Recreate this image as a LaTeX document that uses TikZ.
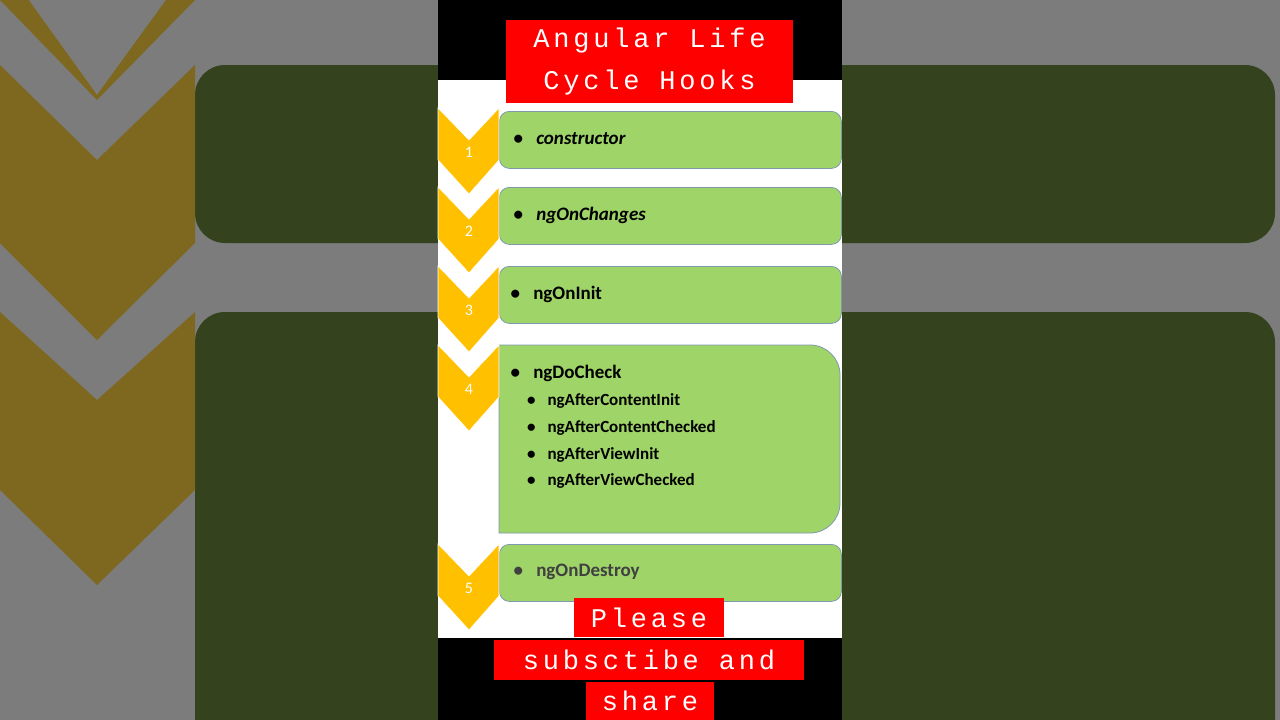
\documentclass[tikz,border=0pt]{standalone}
\usepackage{fontspec}
\setmainfont{Carlito}
\newfontfamily\monof[LetterSpace=14]{Liberation Mono}
\newcommand{\bul}{\textbullet\hspace{0.7em}}
\begin{document}
\begin{tikzpicture}[x=1pt,y=-1pt,
  gbox/.style={fill=hookgreen,draw=boxedge,line width=0.8pt,rounded corners=10pt},
  chev/.style={fill=chevy,draw=white,line width=0.6pt},
  num/.style={text=white,font=\fontsize{16}{18}\selectfont},
  item/.style={anchor=west,font=\fontsize{19}{21}\selectfont\bfseries},
  sub/.style={anchor=west,font=\fontsize{17}{19}\selectfont\bfseries,inner sep=1pt},
  redl/.style={fill=red,text=white,font=\monof\fontsize{27}{42}\selectfont,inner sep=3pt}]
\definecolor{hookgreen}{HTML}{9FD468}
\definecolor{boxedge}{HTML}{7E98B0}
\definecolor{chevy}{HTML}{FFC000}
\definecolor{bggray}{HTML}{7C7C7C}
\definecolor{dimgreen}{HTML}{34421E}
\definecolor{dimyellow}{HTML}{7E6820}
\useasboundingbox (0,0) rectangle (1280,720);
% blurred background
\fill[bggray] (0,0) rectangle (1280,720);
\fill[dimgreen,rounded corners=30pt] (195,65) rectangle (1275,243);
\fill[dimgreen,rounded corners=30pt] (195,312) rectangle (1275,760);
\fill[dimyellow] (0,-40) -- (97,95) -- (195,-40) -- (195,0) -- (97,100) -- (0,0) -- cycle;
\fill[dimyellow] (0,65) -- (97,160) -- (195,65) -- (195,243) -- (97,340) -- (0,243) -- cycle;
\fill[dimyellow] (0,312) -- (97,400) -- (195,312) -- (195,490) -- (97,585) -- (0,490) -- cycle;
% center strip
\fill[black] (438,0) rectangle (842,720);
\fill[white] (438,80) rectangle (842,638);
% boxes
\node[gbox,minimum width=342pt,minimum height=57pt,anchor=north west] (b1) at (499,111) {};
\node[gbox,minimum width=342pt,minimum height=57pt,anchor=north west] (b2) at (499,187) {};
\node[gbox,minimum width=342pt,minimum height=57pt,anchor=north west] (b3) at (499,266) {};
\draw[gbox,rounded corners=0pt] (499,345) -- (810,345) arc[start angle=-90,end angle=0,radius=30] -- (840,503) arc[start angle=0,end angle=90,radius=30] -- (499,533) -- cycle;
\node (b4) at (670,439) {};
\node[gbox,minimum width=342pt,minimum height=57pt,anchor=north west] (b5) at (499,544) {};
% chevrons
\foreach \t/\n in {108/1,187/2,266/3,345/4,544/5}{
  \fill[chev] (438,\t) -- (469,\t+32) -- (499,\t) -- (499,\t+52) -- (469,\t+86) -- (438,\t+52) -- cycle;
  \node[num] (c\n) at (469,\t+44) {\n};
}
% texts
\node[item] (t1) at (510,139) {\bul\textit{constructor}};
\node[item] (t2) at (510,215) {\bul\textit{ngOnChanges}};
\node[item] (t3) at (507,294) {\bul ngOnInit};
\node[item] (t4) at (507,373) {\bul ngDoCheck};
\node[sub] (s1) at (526,401) {\bul ngAfterContentInit};
\node[sub] (s2) at (526,428) {\bul ngAfterContentChecked};
\node[sub] (s3) at (526,455) {\bul ngAfterViewInit};
\node[sub] (s4) at (526,481) {\bul ngAfterViewChecked};
\node[item,text=black!75] (t5) at (510,572) {\bul ngOnDestroy};
% red labels
\node[redl,align=center,minimum width=287pt,minimum height=83pt] (title) at (649.5,61.5) {Angular Life\\Cycle Hooks};
\node[redl,minimum width=150pt,minimum height=39pt] (p1) at (649,617.5) {Please};
\node[redl,minimum width=310pt,minimum height=40pt] (p2) at (649,660) {subsctibe and};
\node[redl,minimum width=128pt,minimum height=38pt] (p3) at (650,701) {share};
\end{tikzpicture}
\end{document}
